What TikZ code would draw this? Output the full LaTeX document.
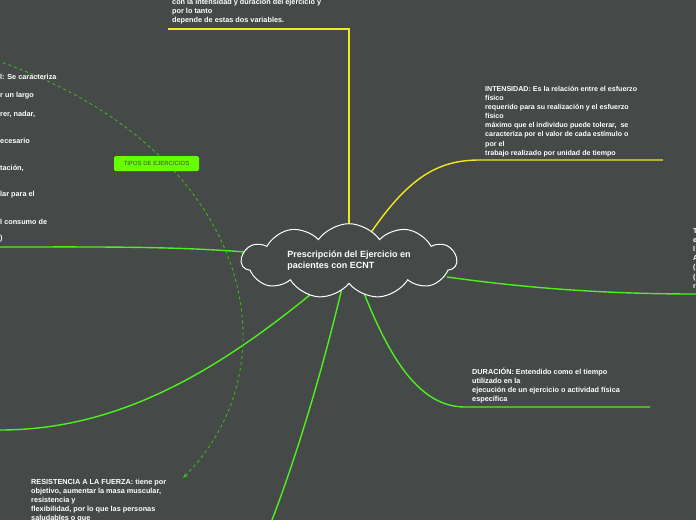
\documentclass[tikz,border=0pt]{standalone}
\usepackage{fontspec}
\setmainfont{Liberation Sans}
\usetikzlibrary{shapes.symbols,arrows.meta}
\definecolor{bg}{HTML}{454A49}
\definecolor{yel}{HTML}{F2E81A}
\definecolor{grn}{HTML}{4CF01C}
\definecolor{lgrn}{HTML}{66FF00}
\tikzset{
 txt/.style={text=white,font=\bfseries\fontsize{7.3}{9}\selectfont,align=left,inner sep=0pt},
 yl/.style={draw=yel,line width=1.4pt},
 gl/.style={draw=grn,line width=1.4pt}
}
\begin{document}
\begin{tikzpicture}[x=1pt,y=-1pt]
\fill[bg] (0,0) rectangle (696,520);
\clip (0,0) rectangle (696,520);
% connectors
\coordinate (tc) at (349,234);
\coordinate (tcorner) at (349,29);
\coordinate (tend) at (168,29);
\draw[yl] (tc) -- (tcorner) -- (tend);
\coordinate (ia) at (370,234);
\coordinate (ib) at (480,160);
\coordinate (ic) at (663,160);
\draw[yl] (ia) .. controls (410,175) and (440,160) .. (ib) -- (ic);
\coordinate (la) at (245,252);
\coordinate (lb) at (0,247);
\draw[gl] (la) .. controls (170,246) and (90,247) .. (lb);
\coordinate (ra) at (447,277);
\coordinate (rb) at (696,294);
\draw[gl] (ra) .. controls (540,290) and (620,294) .. (rb);
\coordinate (dla) at (322,285);
\coordinate (dlb) at (0,430);
\draw[gl] (dla) .. controls (220,370) and (120,430) .. (dlb);
\coordinate (da) at (362,288);
\coordinate (db) at (465,407);
\coordinate (dc) at (650,407);
\draw[gl] (da) .. controls (390,360) and (420,407) .. (db) -- (dc);
\coordinate (ba) at (342,288);
\coordinate (bb) at (272,520);
\draw[gl] (ba) .. controls (320,380) and (295,460) .. (bb);
\coordinate (dsa) at (-20,55);
\coordinate (dsb) at (183,478);
\draw[grn!80!black,line width=0.8pt,dashed,-{Stealth[length=5pt]}] (dsa) .. controls (250,140) and (300,360) .. (dsb);
% center
\node[cloud,cloud puffs=11,cloud puff arc=110,aspect=3.4,draw=white,fill=bg,line width=1pt,minimum width=215pt,minimum height=62pt,
 txt,font=\bfseries\fontsize{9}{11}\selectfont,inner sep=0pt] (c) at (349,261) {Prescripción del Ejercicio en\\pacientes con ECNT};
% box
\node[fill=lgrn,rounded corners=1.5pt,text=bg,font=\fontsize{6}{7}\selectfont,minimum width=85pt,minimum height=15pt,inner sep=1pt] (tipos) at (156.5,163.5) {TIPOS DE EJERCICIOS};
% texts
\node[txt,anchor=north west] (ttop) at (172,-1) {con la intensidad y duración del ejercicio y\\por lo tanto\\depende de estas dos variables.};
\node[txt,anchor=north west,font=\bfseries\fontsize{7.1}{9.1}\selectfont] (tint) at (485,86) {INTENSIDAD: Es la relación entre el esfuerzo\\físico\\requerido para su realización y el esfuerzo\\físico\\máximo que el individuo puede tolerar,\ \ se\\caracteriza por el valor de cada estímulo o\\por el\\trabajo realizado por unidad de tiempo};
\node[txt,anchor=north west] (tdur) at (472,368) {DURACIÓN: Entendido como el tiempo\\utilizado en la\\ejecución de un ejercicio o actividad física\\específica};
\node[txt,anchor=north west] (tres) at (31,479) {RESISTENCIA A LA FUERZA: tiene por\\objetivo, aumentar la masa muscular,\\resistencia y\\flexibilidad, por lo que las personas\\saludables o que};
\foreach \t/\y in {{l: Se caracteriza}/77,{r un largo}/96,{rer, nadar,}/114,{ecesario}/141,{tación,}/168,{lar para el}/195,{l consumo de}/222,{)}/239}
 \node[txt,anchor=west] at (0,\y) {\t};
\node[txt,anchor=north west,font=\bfseries\fontsize{7}{9.2}\selectfont] (tr) at (693,228) {T\\e\\l\\A\\(\\(\\r};
\end{tikzpicture}
\end{document}
